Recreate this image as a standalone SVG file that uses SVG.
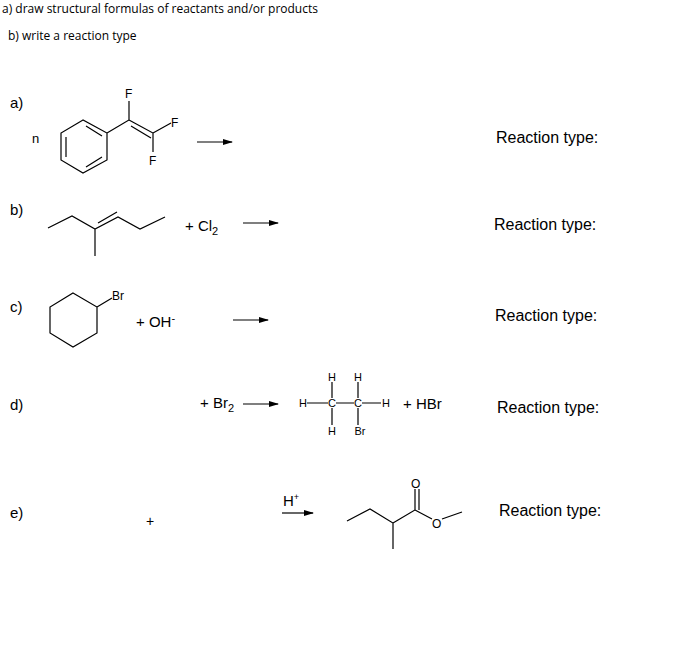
<svg xmlns="http://www.w3.org/2000/svg" width="681" height="646" viewBox="0 0 681 646">
<style>
text{font-family:"Liberation Sans",Arial,sans-serif;fill:#000}
.hd{font-family:"Open Sans","Liberation Sans",sans-serif;font-size:12px}
.lb{font-size:15px}
.rt{font-size:16px}
.at{font-size:12px}
.b{stroke:#000;stroke-width:1.2;fill:none}
.ar{stroke:#000;stroke-width:1.2;marker-end:url(#ah)}
</style>
<defs><marker id="ah" markerWidth="10" markerHeight="6" refX="9" refY="3" orient="auto" markerUnits="userSpaceOnUse"><path d="M0,0 L10,3 L0,6 z" fill="#000"/></marker></defs>
<rect width="681" height="646" fill="#fff"/>
<text class="hd" x="2" y="13">a) draw structural formulas of reactants and/or products</text>
<text class="hd" x="8" y="40">b) write a reaction type</text>
<g id="labels">
<text class="lb" x="10" y="108">a)</text>
<text class="lb" x="10" y="215">b)</text>
<text class="lb" x="10" y="312">c)</text>
<text class="lb" x="10" y="410">d)</text>
<text class="lb" x="10" y="518">e)</text>
<text class="rt" x="496" y="143">Reaction type:</text>
<text class="rt" x="494" y="230">Reaction type:</text>
<text class="rt" x="495" y="321">Reaction type:</text>
<text class="rt" x="497" y="413">Reaction type:</text>
<text class="rt" x="499" y="516">Reaction type:</text>
</g>
<g id="a">
<text x="32" y="143" font-size="13">n</text>
<path class="b" d="M83,120 L61,133 L61,160 L83,173 L107,160 L107,133 Z M66,137 L66,157 M86,167 L102,157 M86,126 L102,136 M107,133 L129,120 L129,101 M129,120 L153,133 L153,152 M131,126 L151,138 M153,133 L171,123"/>
<text class="at" x="125" y="98">F</text>
<text class="at" x="171" y="127">F</text>
<text class="at" x="149" y="165">F</text>
</g>
<g id="b">
<path class="b" d="M48,228 L72,216 L95,229 L118,217 L140,229 L165,217 M95,229 L95,256 M98,223 L117,212"/>
<text x="185" y="231" font-size="15">+ Cl<tspan font-size="11" dy="4">2</tspan></text>
</g>
<g id="c">
<path class="b" d="M73,293 L97,307 L97,333 L73,347 L50,333 L50,307 Z M97,307 L112,298"/>
<text class="at" x="112" y="300">Br</text>
<text x="136" y="327" font-size="15">+  OH<tspan font-size="11" dy="-5">-</tspan></text>
</g>
<g id="d">
<text x="200" y="408" font-size="15">+ Br<tspan font-size="11" dy="4">2</tspan></text>
<path class="b" d="M307,403 L328,403 M336,403 L354,403 M362,403 L381,403 M332,382 L332,398 M358,382 L358,398 M332,408 L332,425 M358,408 L358,425"/>
<g font-size="11" text-anchor="middle">
<text x="332" y="381">H</text><text x="358" y="381">H</text>
<text x="303" y="407">H</text><text x="332" y="407">C</text><text x="358" y="407">C</text><text x="386" y="407">H</text>
<text x="332" y="435">H</text><text x="360" y="435">Br</text>
</g>
<text x="403" y="409" font-size="15">+ HBr</text>
</g>
<g id="e">
<text x="146" y="526" font-size="14">+</text>
<text x="283" y="506" font-size="15">H<tspan font-size="9" dy="-6">+</tspan></text>
<path class="b" d="M347,521 L370,509 L393,523 L393,549 M393,523 L415,510 L415,489 M419,510 L419,489 M415,510 L432,519 M442,519 L462,512"/>
<text class="at" x="411" y="488">O</text>
<text class="at" x="432" y="528">O</text>
</g>
<g id="connectors">
<line class="ar" x1="197" y1="142" x2="232" y2="142"/>
<line class="ar" x1="243" y1="223" x2="278" y2="223"/>
<line class="ar" x1="233" y1="320" x2="268" y2="320"/>
<line class="ar" x1="243" y1="404" x2="278" y2="404"/>
<line class="ar" x1="282" y1="513" x2="313" y2="513"/>
</g>
</svg>
